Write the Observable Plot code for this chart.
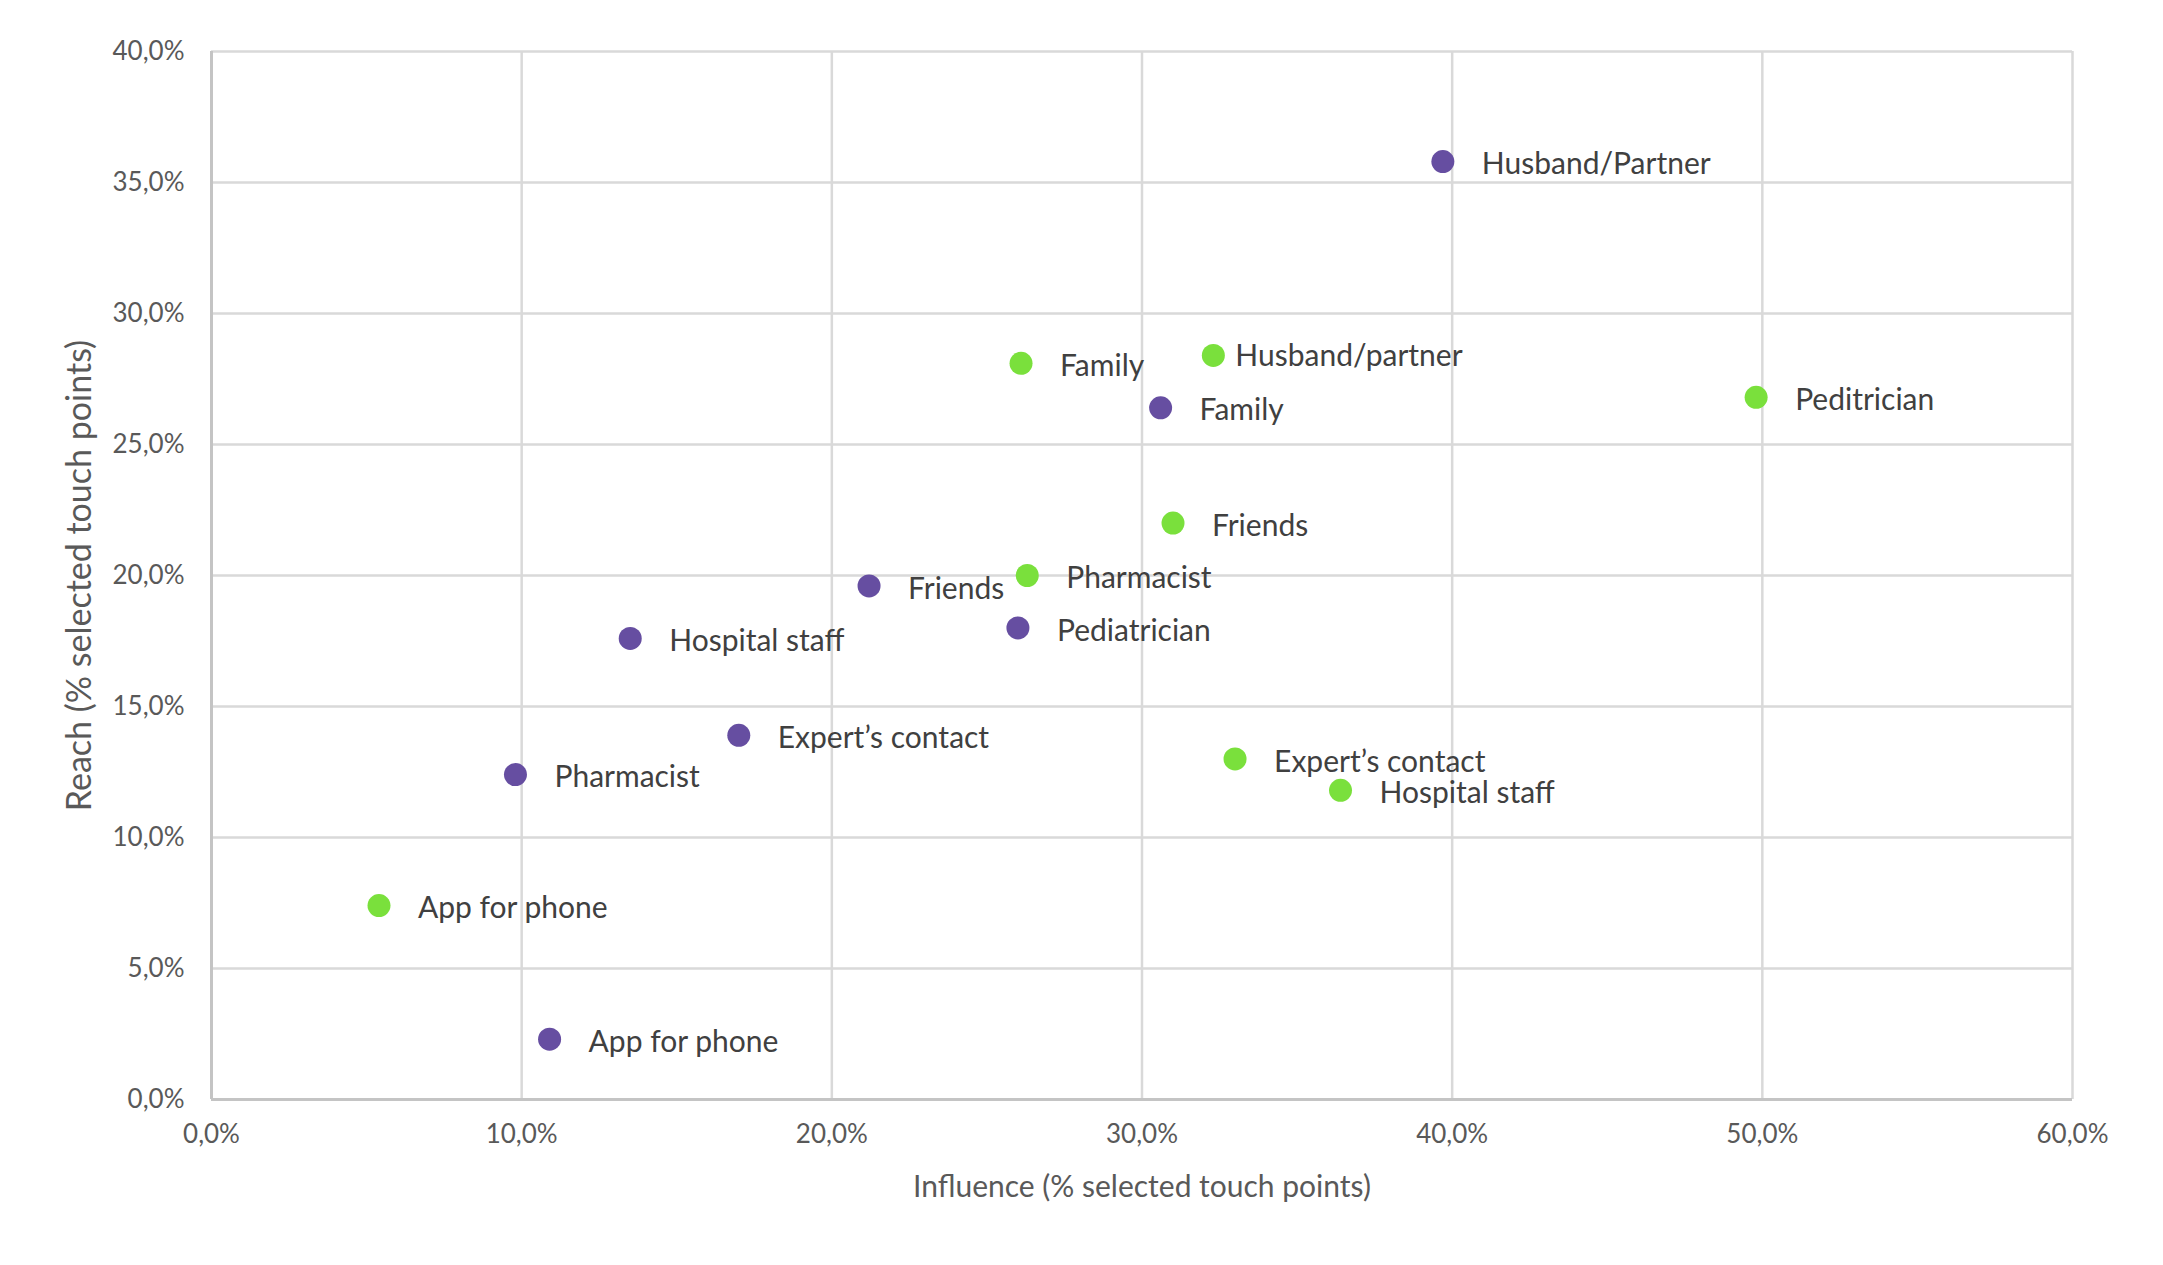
<!DOCTYPE html>
<html>
<head>
<meta charset="utf-8">
<script src="https://cdn.jsdelivr.net/npm/d3@7"></script>
<script src="https://cdn.jsdelivr.net/npm/@observablehq/plot@0.6"></script>
<style>
  html, body { margin: 0; padding: 0; background: #ffffff; }
  #chart { width: 2163px; height: 1265px; }
</style>
</head>
<body>
<div id="chart"></div>
<script>
// ---- Data ----
const purpleLabels    = ["Husband/Partner", "Family", "Friends", "Pediatrician", "Hospital staff", "Expert’s contact", "Pharmacist", "App for phone"];
const purpleInfluence = [0.397, 0.306, 0.212, 0.260, 0.135, 0.170, 0.098, 0.109];
const purpleReach     = [0.358, 0.264, 0.196, 0.180, 0.176, 0.139, 0.124, 0.023];

const greenLabels     = ["Family", "Husband/partner", "Peditrician", "Friends", "Pharmacist", "Expert’s contact", "Hospital staff", "App for phone"];
const greenInfluence  = [0.261, 0.323, 0.498, 0.310, 0.263, 0.330, 0.364, 0.054];
const greenReach      = [0.281, 0.284, 0.268, 0.220, 0.200, 0.130, 0.118, 0.074];

const xTicks = [0, 0.1, 0.2, 0.3, 0.4, 0.5, 0.6];
const yTicks = [0, 0.05, 0.1, 0.15, 0.2, 0.25, 0.3, 0.35, 0.4];
const xTitle = "Influence (% selected touch points)";
const yTitle = "Reach (% selected touch points)";
const seriesNames = ["Series 1", "Series 2"];

// ---- Build table ----
const points = [
  ...purpleLabels.map((label, i) => ({series: seriesNames[0], label, x: purpleInfluence[i], y: purpleReach[i]})),
  ...greenLabels.map((label, i) => ({series: seriesNames[1], label, x: greenInfluence[i], y: greenReach[i]}))
];

const pct = d => d3.format(".1%")(d).replace(".", ",");
const FONT = "Lato, 'Open Sans', sans-serif";
const tightLabel = d => d.series === seriesNames[1] && d.label === "Husband/partner";

const chart = Plot.plot({
  width: 2163,
  height: 1265,
  marginLeft: 211,
  marginRight: 91,
  marginTop: 51,
  marginBottom: 166,
  style: {fontFamily: FONT, background: "#ffffff", overflow: "visible"},
  x: {domain: [0, 0.6]},
  y: {domain: [0, 0.4]},
  color: {domain: seriesNames, range: ["#664ea1", "#7ae03c"]},
  marks: [
    Plot.gridX(xTicks, {stroke: "#d9d9d9", strokeOpacity: 1, strokeWidth: 2.5}),
    Plot.gridY(yTicks, {stroke: "#d9d9d9", strokeOpacity: 1, strokeWidth: 2.5}),
    Plot.ruleX([0], {stroke: "#c4c4c4", strokeWidth: 3}),
    Plot.ruleY([0], {stroke: "#c4c4c4", strokeWidth: 3}),
    Plot.axisX({ticks: xTicks, tickFormat: pct, tickSize: 0, tickPadding: 25, fontSize: 26, fill: "#595959", label: null}),
    Plot.axisY({ticks: yTicks, tickFormat: pct, tickSize: 0, tickPadding: 27, fontSize: 26, fill: "#595959", label: null}),
    Plot.dot(points, {x: "x", y: "y", fill: "series", r: 11.5}),
    Plot.text(points.filter(d => !tightLabel(d)), {x: "x", y: "y", text: "label", textAnchor: "start", lineAnchor: "middle", dx: 39, dy: 3, fontSize: 30, fill: "#404040", fontFamily: FONT}),
    Plot.text(points.filter(tightLabel), {x: "x", y: "y", text: "label", textAnchor: "start", lineAnchor: "middle", dx: 22, dy: 1, fontSize: 30, fill: "#404040", fontFamily: FONT}),
    Plot.text([xTitle], {frameAnchor: "bottom", textAnchor: "middle", lineAnchor: "middle", dy: 88, fontSize: 30, fill: "#595959", fontFamily: FONT}),
    Plot.text([yTitle], {frameAnchor: "left", textAnchor: "middle", lineAnchor: "middle", rotate: -90, dx: -131, fontSize: 34, fill: "#595959", fontFamily: FONT})
  ]
});

document.getElementById("chart").appendChild(chart);
</script>
</body>
</html>
